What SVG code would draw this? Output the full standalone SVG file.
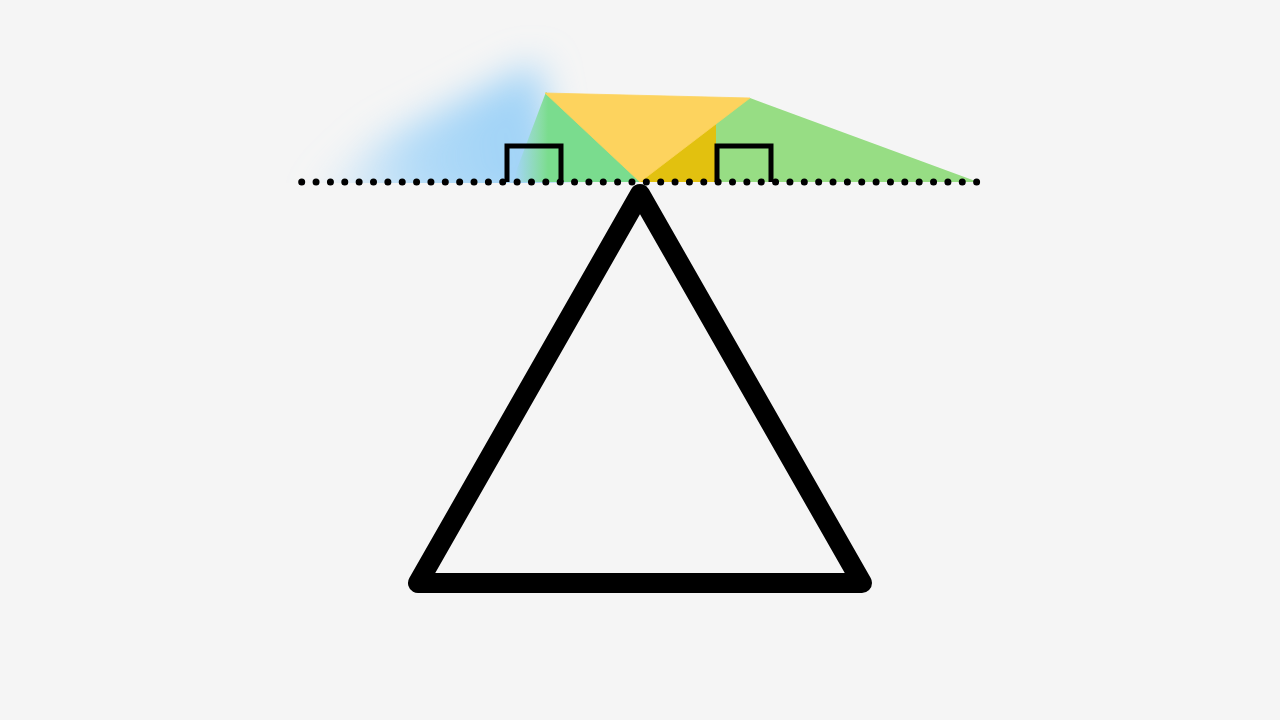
<svg xmlns="http://www.w3.org/2000/svg" width="1280" height="720" viewBox="0 0 1280 720">
  <defs>
    <filter id="blur" x="-50%" y="-50%" width="200%" height="200%">
      <feGaussianBlur stdDeviation="18"/>
    </filter>
    <linearGradient id="blueFade" gradientUnits="userSpaceOnUse" x1="305" y1="182" x2="495" y2="150">
      <stop offset="0" stop-color="#a6d6f8" stop-opacity="0"/>
      <stop offset="0.6" stop-color="#a6d6f8" stop-opacity="0.85"/>
      <stop offset="1" stop-color="#a3d4f7" stop-opacity="1"/>
    </linearGradient>
    <linearGradient id="greenFade" gradientUnits="userSpaceOnUse" x1="515" y1="0" x2="548" y2="0">
      <stop offset="0" stop-color="#7adc8e" stop-opacity="0"/>
      <stop offset="1" stop-color="#7adc8e" stop-opacity="1"/>
    </linearGradient>
    <clipPath id="aboveLine">
      <rect x="0" y="0" width="1280" height="183"/>
    </clipPath>
    <style>
      .bracket { fill: none; stroke: #000; stroke-width: 5; stroke-linejoin: miter; }
      .dots { fill: none; stroke: #000; stroke-width: 7; stroke-linecap: round; stroke-dasharray: 0 14.36; }
      .tri { fill: none; stroke: #000; stroke-width: 20; stroke-linejoin: round; }
    </style>
  </defs>
  <rect width="1280" height="720" fill="#f5f5f5"/>

  <g id="fan">
    <g clip-path="url(#aboveLine)">
      <polygon points="538,62 566,210 290,210 380,140" fill="url(#blueFade)" filter="url(#blur)"/>
    </g>
    <polygon id="wedge-left" points="641,182 546,92 512,182" fill="url(#greenFade)"/>
    <polygon id="wedge-right" points="750,98 978,182 716,182 716,120 744,98.5" fill="#97dd84"/>
    <polygon id="wedge-dark" points="639,182 716,120 716,182" fill="#e2c10f"/>
    <polygon id="wedge-top" points="545,93 750,98 640,182" fill="#fdd35e" stroke="#fdd35e" stroke-width="0.8" stroke-linejoin="round"/>
  </g>

  <g id="connectors">
    <line id="baseline" class="dots" x1="301.7" y1="182" x2="977" y2="182"/>
  </g>

  <g id="bracket-left">
    <path class="bracket" d="M507,182 V146 H561 V182"/>
  </g>
  <g id="bracket-right">
    <path class="bracket" d="M717,182 V146 H771 V182"/>
  </g>

  <g id="triangle">
    <polygon class="tri" points="640,194 418,583 862,583"/>
  </g>
</svg>
